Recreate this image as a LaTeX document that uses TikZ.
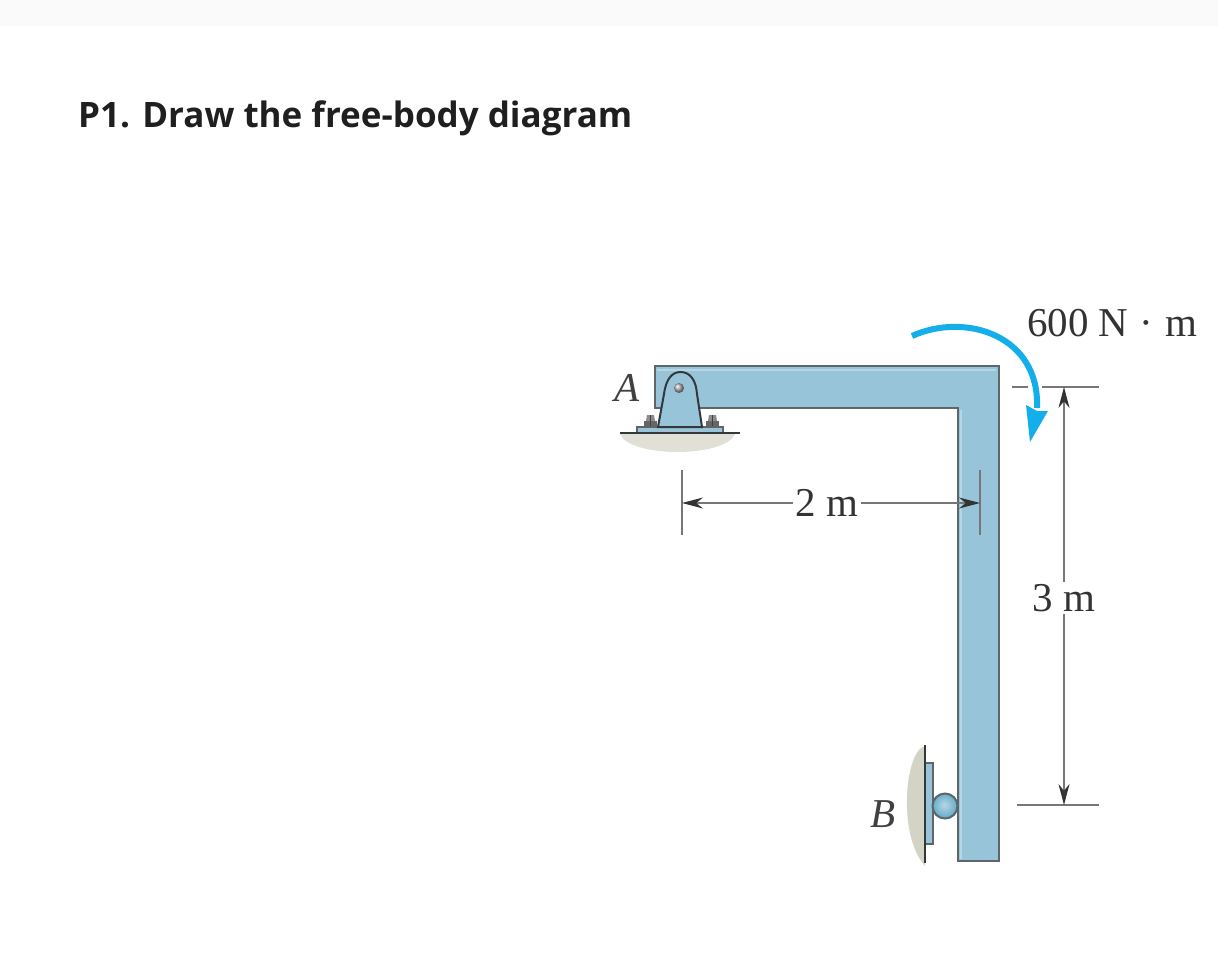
\documentclass[tikz,border=0pt]{standalone}
\usepackage{fontspec}
\setmainfont{Liberation Serif}
\newfontfamily\titlefont{Open Sans}
\usetikzlibrary{arrows.meta,shadings}
\definecolor{beam}{HTML}{98C4DA}
\definecolor{beamlight}{HTML}{B4D6E6}
\definecolor{edge}{HTML}{5F6668}
\definecolor{dark}{HTML}{33383A}
\definecolor{cyanarrow}{HTML}{14AEEA}
\definecolor{shadowtone}{HTML}{D4D4C6}
\definecolor{dim}{HTML}{777777}
\definecolor{ballmid}{HTML}{6FB4D0}
\definecolor{ballrim}{HTML}{3F93B5}
\pgfdeclareradialshading{ballblue}{\pgfpoint{-0.05cm}{0.08cm}}{%
  color(0bp)=(beamlight); color(10bp)=(beam); color(20bp)=(ballmid); color(35bp)=(ballrim); color(50bp)=(ballrim)}
\tikzset{
  dimline/.style={draw=dim,line width=1.1pt},
  dimarrow/.style={dimline,-{Stealth[length=21pt,width=11pt,color=black!80]}},
  extline/.style={draw=dim,line width=1.5pt},
  lbl/.style={inner sep=2pt,font=\fontsize{41}{41}\selectfont,text=black!80},
  ital/.style={inner sep=2pt,font=\itshape\fontsize{41}{41}\selectfont,text=black!75},
  body/.style={fill=beam,draw=edge,line width=2pt,line join=miter},
}
\begin{document}
\begin{tikzpicture}[x=1pt,y=-1pt]
\useasboundingbox (0,0) rectangle (1218,974);
\fill[white] (0,0) rectangle (1218,974);
\fill[black!2] (0,0) rectangle (1218,26);
\node[anchor=west,inner sep=0pt,font=\titlefont\bfseries\fontsize{35}{36}\selectfont,text=black!88] (title) at (78,118) {P1. Draw the free-body diagram};
% shadows
\fill[shadowtone,opacity=.7] (620,434) .. controls (630,458) and (725,458) .. (735,434) -- cycle;
\fill[shadowtone] (925,746) .. controls (905,750) and (897,835) .. (925,866) -- cycle;
% L-shaped beam
\draw[body] (655,366) -- (999,366) -- (999,861) -- (958,861) -- (958,408) -- (655,408) -- cycle;
\draw[beamlight,line width=2pt] (657,369.5) -- (996,369.5);
\draw[beamlight,line width=2pt] (961,410) -- (961,859);
% bolts
\foreach \x in {644,706}{
  \fill[black!60] (\x,427) rectangle (\x+13,421);
  \fill[black!45] (\x+2,421) -- (\x+3,415) -- (\x+10,415) -- (\x+11,421) -- cycle;
  \draw[black!75,line width=.8pt] (\x+6.5,415) -- (\x+6.5,427);
}
% pin support A
\draw[body] (637,433) -- (637,427) -- (723,427) -- (723,433) -- cycle;
\draw[body,draw=dark] (658,427) -- (664,394) .. controls (666,379) and (672,372) .. (680.5,372) .. controls (690,372) and (696,380) .. (697,394) -- (702,427) -- cycle;
\shade[ball color=black!30] (679,388) circle (5);
\draw[dark,line width=2pt] (620,433) -- (740,433);
% support B
\draw[body] (925,763) rectangle (933,844);
\draw[dark,line width=2pt] (925,745) -- (925,863);
\shade[shading=ballblue] (945,806) circle (13);
\draw[edge,line width=2pt] (945,806) circle (12.5);
% dimensions
\coordinate (t1) at (1012,387); \coordinate (t1b) at (1028,387);
\coordinate (t2) at (1042,387); \coordinate (t3) at (1099,387);
\coordinate (b1) at (1017,805); \coordinate (b2) at (1099,805);
\draw[extline] (t1) -- (t1b);
\draw[extline] (t2) -- (t3);
\draw[extline,line width=1.2pt] (b1) -- (b2);
\coordinate (dt) at (1064,387); \coordinate (db) at (1064,805);
\node[lbl] (three) at (1064,598) {3 m};
\draw[dimarrow] (three.north) -- (dt);
\draw[dimarrow] (three.south) -- (db);
\coordinate (l1) at (682,470); \coordinate (l2) at (682,535);
\coordinate (r1) at (980,470); \coordinate (r2) at (980,535);
\draw[extline,line width=1.3pt] (l1) -- (l2);
\draw[extline,line width=1.3pt] (r1) -- (r2);
\coordinate (dl) at (682,503); \coordinate (dr) at (980,503);
\node[lbl] (two) at (827,503) {2 m};
\draw[dimarrow] (two.west) -- (dl);
\draw[dimarrow] (two.east) -- (dr);
% moment arrow
\coordinate (m0) at (912,336);
\coordinate (m1) at (1037,408);
\draw[cyanarrow,line width=6pt] (m0) .. controls (965,312) and (1040,335) .. (m1);
\fill[cyanarrow] (1030,442) -- (1026,405) -- (1037,411) -- (1048,411) -- cycle;
% labels
\node[ital] (A) at (627,388) {A};
\node[ital] (B) at (883,814) {B};
\node[lbl,inner sep=0pt] (moment) at (1112,323) {600 N\hspace{.28em}\textperiodcentered\hspace{.28em}m};
\end{tikzpicture}
\end{document}
